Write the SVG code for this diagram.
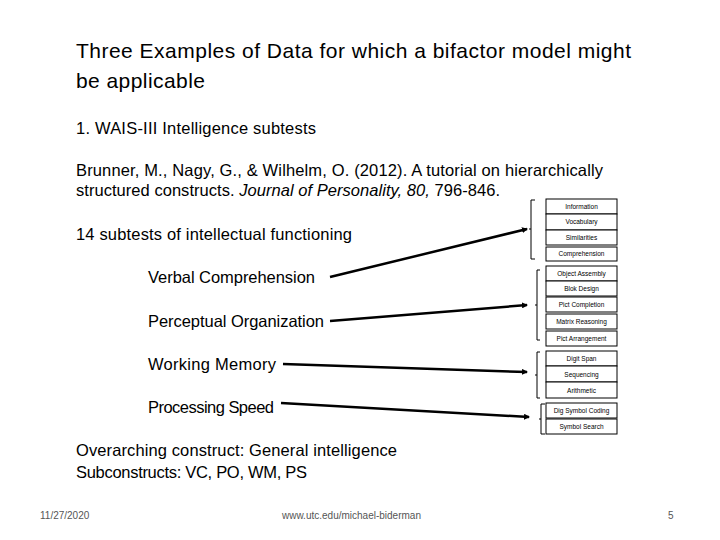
<svg xmlns="http://www.w3.org/2000/svg" width="720" height="540" viewBox="0 0 720 540">
<style>
text{font-family:"Liberation Sans",Arial,sans-serif;fill:#000}
.t{font-size:21px}.b{font-size:16.5px}.s{font-size:6.5px;text-anchor:middle}.f{font-size:10px;fill:#555}
.bx{fill:#fff;stroke:#000;stroke-width:1}
.br{fill:none;stroke:#000;stroke-width:1}
.ln{stroke:#000;stroke-width:2.5;fill:none;marker-end:url(#a)}
</style>
<defs><marker id="a" markerWidth="6" markerHeight="6" refX="5" refY="3" orient="auto" markerUnits="userSpaceOnUse"><path d="M0,0L6,3L0,6z"/></marker></defs>
<rect width="720" height="540" fill="#fff"/>
<g id="text">
<text class="t" x="76" y="58" textLength="555">Three Examples of Data for which a bifactor model might</text>
<text class="t" x="76" y="88" textLength="129">be applicable</text>
<text class="b" x="76" y="134" textLength="240">1.  WAIS-III  Intelligence subtests</text>
<text class="b" x="76" y="176" textLength="527">Brunner, M., Nagy, G., &amp; Wilhelm, O. (2012).  A tutorial on hierarchically</text>
<text class="b" x="76" y="196" textLength="424">structured constructs.  <tspan font-style="italic">Journal of Personality, 80,</tspan> 796-846.</text>
<text class="b" x="76" y="240" textLength="276">14 subtests of intellectual functioning</text>
<text class="b" x="148" y="283" textLength="167">Verbal Comprehension</text>
<text class="b" x="148" y="327" textLength="176">Perceptual Organization</text>
<text class="b" x="148" y="370" textLength="128">Working Memory</text>
<text class="b" x="148" y="413" textLength="126">Processing Speed</text>
<text class="b" x="76" y="456" textLength="321">Overarching construct:  General intelligence</text>
<text class="b" x="76" y="478" textLength="231">Subconstructs:  VC, PO, WM, PS</text>
<text class="f" x="40" y="519">11/27/2020</text>
<text class="f" x="282" y="519">www.utc.edu/michael-biderman</text>
<text class="f" x="668" y="519">5</text>
</g>
<g id="connectors">
<line class="ln" x1="330" y1="277" x2="527" y2="229"/>
<line class="ln" x1="330" y1="321" x2="527" y2="305"/>
<line class="ln" x1="283" y1="364" x2="527" y2="372"/>
<line class="ln" x1="281" y1="403" x2="529" y2="417"/>
<path class="br" d="M535,200H531V259H535M529,229H531"/>
<path class="br" d="M540,270H537V340H540M535,305H537"/>
<path class="br" d="M540,352H537V398H540M535,375H537"/>
<path class="br" d="M545,404H541V434H545M539,419H541"/>
</g>
<g id="g1">
<rect class="bx" x="546" y="199" width="71" height="15"/><text class="s" x="581.5" y="209">Information</text>
<rect class="bx" x="546" y="214" width="71" height="16"/><text class="s" x="581.5" y="224">Vocabulary</text>
<rect class="bx" x="546" y="230" width="71" height="15"/><text class="s" x="581.5" y="240">Similarities</text>
<rect class="bx" x="546" y="247" width="71" height="14"/><text class="s" x="581.5" y="256">Comprehension</text>
</g>
<g id="g2">
<rect class="bx" x="546" y="266" width="71" height="15"/><text class="s" x="581.5" y="276">Object Assembly</text>
<rect class="bx" x="546" y="281" width="71" height="15"/><text class="s" x="581.5" y="291">Blok Design</text>
<rect class="bx" x="546" y="297" width="71" height="15"/><text class="s" x="581.5" y="307">Pict Completion</text>
<rect class="bx" x="546" y="314" width="71" height="15"/><text class="s" x="581.5" y="324">Matrix Reasoning</text>
<rect class="bx" x="546" y="331" width="71" height="15"/><text class="s" x="581.5" y="341">Pict Arrangement</text>
</g>
<g id="g3">
<rect class="bx" x="546" y="351" width="71" height="15"/><text class="s" x="581.5" y="361">Digit Span</text>
<rect class="bx" x="546" y="366" width="71" height="16"/><text class="s" x="581.5" y="377">Sequencing</text>
<rect class="bx" x="546" y="382" width="71" height="16"/><text class="s" x="581.5" y="393">Arithmetic</text>
</g>
<g id="g4">
<rect class="bx" x="546" y="403" width="71" height="15"/><text class="s" x="581.5" y="413">Dig Symbol Coding</text>
<rect class="bx" x="546" y="419" width="71" height="15"/><text class="s" x="581.5" y="429">Symbol Search</text>
</g>
</svg>
